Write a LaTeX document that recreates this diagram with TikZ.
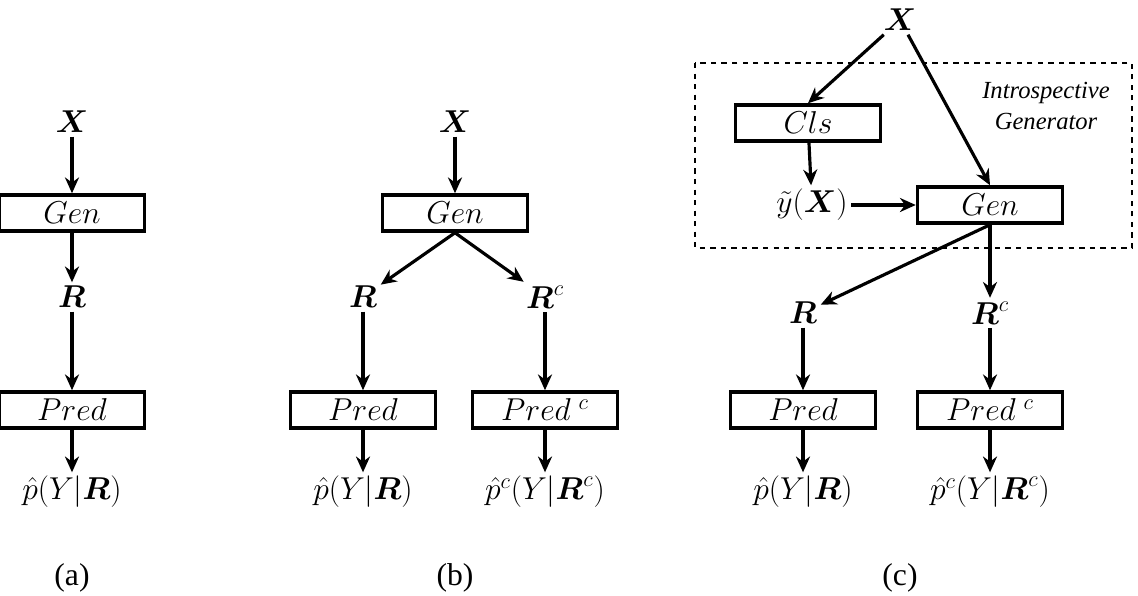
\RequirePackage{fix-cm}
\documentclass[tikz,border=0pt]{standalone}
\usepackage{amsmath,amssymb}
\usepackage{fontspec}
\setmainfont{Liberation Serif}
\usetikzlibrary{arrows.meta, positioning}

\begin{document}
\begin{tikzpicture}[x=0.02cm, y=-0.02cm]
\tikzset{% boxes and arrows
  block/.style={rectangle, draw, line width=2pt, minimum width=2.9cm, minimum height=0.72cm, inner sep=0pt, font=\fontsize{18}{22}\selectfont},
  lbl/.style={font=\fontsize{18}{22}\selectfont, inner sep=2pt},
  line/.style={draw, line width=1.8pt, -{Stealth[length=9pt, width=8pt]}},
}
\useasboundingbox (0,0) rectangle (1138,595);

% (a)
\node[lbl] (Xa) at (72,122) {$\boldsymbol{X}$};
\node[block] (GenA) at (72,213) {$Gen$};
\node[lbl] (Ra) at (72,297) {$\boldsymbol{R}$};
\node[block] (PredA) at (72,410) {$Pred$};
\node[lbl] (OutA) at (72,492) {$\hat{p}(Y|\boldsymbol{R})$};
\node[lbl] (CapA) at (72,578) {(a)};
\draw[line] (Xa) -- (GenA);
\draw[line] (GenA) -- (Ra);
\draw[line] (Ra) -- (PredA);
\draw[line] (PredA) -- (OutA);

% (b)
\node[lbl] (Xb) at (455,122) {$\boldsymbol{X}$};
\node[block] (GenB) at (455,213) {$Gen$};
\node[lbl] (Rb) at (363,297) {$\boldsymbol{R}$};
\node[lbl] (RcB) at (545,297) {$\boldsymbol{R}^c$};
\node[block] (PredB) at (363,410) {$Pred$};
\node[block] (PredcB) at (545,410) {$Pred^{\ c}$};
\node[lbl] (OutB) at (363,492) {$\hat{p}(Y|\boldsymbol{R})$};
\node[lbl] (OutcB) at (545,492) {$\hat{p}^c(Y|\boldsymbol{R}^c)$};
\node[lbl] (CapB) at (455,578) {(b)};
\draw[line] (Xb) -- (GenB);
\draw[line] (GenB.south) -- (Rb);
\draw[line] (GenB.south) -- (RcB);
\draw[line] (Rb) -- (PredB);
\draw[line] (RcB) -- (PredcB);
\draw[line] (PredB) -- (OutB);
\draw[line] (PredcB) -- (OutcB);

% (c)
\draw[dashed, line width=0.9pt] (695,63) rectangle (1132,248);
\node[font=\fontsize{14}{18}\selectfont\itshape, align=center] (Intro) at (1046,106) {Introspective\\Generator};
\node[lbl] (Xc) at (900,20) {$\boldsymbol{X}$};
\node[block] (Cls) at (808,123) {$Cls$};
\node[lbl] (Yt) at (812,205) {$\tilde{y}(\boldsymbol{X})$};
\node[block] (GenC) at (990,205) {$Gen$};
\node[lbl] (Rc) at (803,313) {$\boldsymbol{R}$};
\node[lbl] (RcC) at (990,313) {$\boldsymbol{R}^c$};
\node[block] (PredC) at (803,410) {$Pred$};
\node[block] (PredcC) at (990,410) {$Pred^{\ c}$};
\node[lbl] (OutC) at (803,492) {$\hat{p}(Y|\boldsymbol{R})$};
\node[lbl] (OutcC) at (990,492) {$\hat{p}^c(Y|\boldsymbol{R}^c)$};
\node[lbl] (CapC) at (900,578) {(c)};
\draw[line] (Xc) -- (Cls.north);
\draw[line] (Xc) -- (GenC.north);
\draw[line] (Cls) -- (Yt);
\draw[line] (Yt) -- (GenC);
\draw[line] (GenC.south) -- (Rc);
\draw[line] (GenC.south) -- (RcC);
\draw[line] (Rc) -- (PredC);
\draw[line] (RcC) -- (PredcC);
\draw[line] (PredC) -- (OutC);
\draw[line] (PredcC) -- (OutcC);
\end{tikzpicture}
\end{document}
